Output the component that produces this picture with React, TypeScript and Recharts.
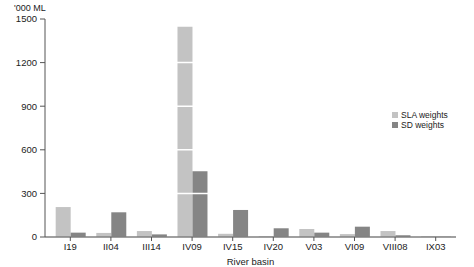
import {
  BarChart,
  Bar,
  XAxis,
  YAxis,
  Legend,
  ReferenceLine,
} from 'recharts'

// River basins along the x axis
const basins = ['I19', 'II04', 'III14', 'IV09', 'IV15', 'IV20', 'V03', 'VI09', 'VIII08', 'IX03']
// '000 ML
const slaWeights = [206, 28, 41, 1447, 22, 5, 55, 20, 41, 5]
const sdWeights = [30, 170, 18, 452, 186, 60, 30, 71, 12, 2]
const yTicks = [0, 300, 600, 900, 1200, 1500]
const gridValues = [300, 600, 900, 1200]

const FONT = '"Liberation Sans", Arial, sans-serif'
const TEXT = '#222'
const SLA_COLOR = '#c3c3c3'
const SD_COLOR = '#858585'

const legendItems = [
  { name: 'SLA weights', color: SLA_COLOR },
  { name: 'SD weights', color: SD_COLOR },
]

const chartData = basins.map((b, i) => ({
  basin: b,
  sla: slaWeights[i],
  sd: sdWeights[i],
}))

// plain stacked legend, keeps the series order of the original
function SimpleLegend() {
  return (
    <div style={{ fontSize: 8.5, color: TEXT, lineHeight: '10px', fontFamily: FONT }}>
      {legendItems.map((it) => (
        <div key={it.name} style={{ display: 'flex', alignItems: 'center', gap: 3 }}>
          <span style={{ display: 'inline-block', width: 6, height: 6, background: it.color }} />
          <span>{it.name}</span>
        </div>
      ))}
    </div>
  )
}

export default function App() {
  return (
    <div style={{ position: 'absolute', left: 0, top: 0, width: 474, height: 267, fontFamily: FONT }}>
      <div style={{ position: 'absolute', left: 14, top: 2, fontSize: 9, color: TEXT, lineHeight: '12px' }}>
        '000 ML
      </div>
      <BarChart
        width={474}
        height={267}
        data={chartData}
        margin={{ top: 19, right: 18, left: 0, bottom: 0 }}
        barCategoryGap="14%"
        barGap={0}
      >
        <XAxis
          dataKey="basin"
          height={30}
          padding={{ left: 5, right: 0 }}
          tickSize={4}
          tickMargin={2}
          tick={{ fontSize: 9.5, fill: TEXT, fontFamily: FONT }}
          axisLine={{ stroke: '#808080', strokeWidth: 1.5 }}
          tickLine={{ stroke: '#555' }}
          label={{ value: 'River basin', position: 'insideBottom', offset: 2, fontSize: 9.5, fill: TEXT, fontFamily: FONT }}
        />
        <YAxis
          width={45}
          domain={[0, 1500]}
          ticks={yTicks}
          interval={0}
          tickSize={5}
          tickMargin={3}
          tick={{ fontSize: 9.5, fill: TEXT, fontFamily: FONT }}
          axisLine={{ stroke: '#555' }}
          tickLine={{ stroke: '#555' }}
        />
        <Legend
          layout="vertical"
          align="center"
          verticalAlign="middle"
          content={<SimpleLegend />}
          wrapperStyle={{ position: 'absolute', left: 392, top: 110, width: 80 }}
        />
        <Bar dataKey="sla" name="SLA weights" fill={SLA_COLOR} isAnimationActive={false} />
        <Bar dataKey="sd" name="SD weights" fill={SD_COLOR} isAnimationActive={false} />
        {gridValues.map((v) => (
          <ReferenceLine key={v} y={v} stroke="#fff" strokeWidth={1.5} />
        ))}
      </BarChart>
    </div>
  )
}
